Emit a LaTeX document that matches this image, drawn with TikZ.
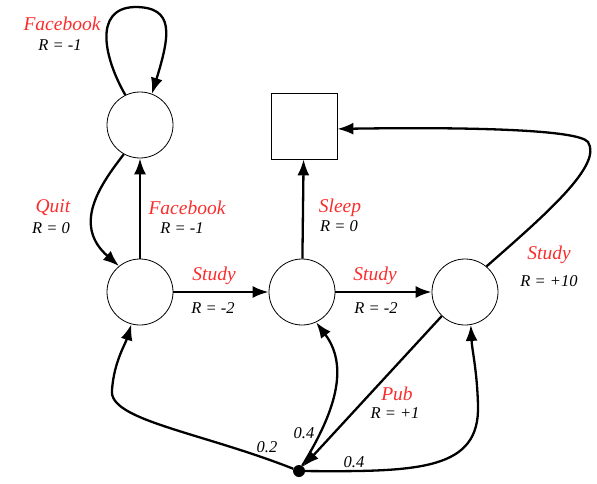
\documentclass[tikz,border=0pt]{standalone}
\usepackage{fontspec}
\setmainfont{Liberation Serif}
\usetikzlibrary{arrows.meta}
\definecolor{actred}{RGB}{250,45,45}
\begin{document}
\begin{tikzpicture}[x=1pt,y=-1pt,
  state/.style={draw,circle,minimum size=66pt,inner sep=0pt,line width=0.8pt},
  term/.style={draw,rectangle,minimum size=66pt,inner sep=0pt,line width=0.8pt},
  chance/.style={circle,fill=black,minimum size=12pt,inner sep=0pt},
  edge/.style={line width=2.3pt,-{Latex[length=16pt,width=12pt]}},
  act/.style={text=actred,font=\fontsize{19.5}{22}\selectfont\itshape,inner sep=0pt},
  rew/.style={font=\fontsize{16.5}{19}\selectfont\itshape,inner sep=0pt},
  prob/.style={font=\fontsize{16.5}{19}\selectfont\itshape,inner sep=0pt}]
\useasboundingbox (0,0) rectangle (597,484);
\node[state] (fb) at (140,125) {};
\node[state] (c1) at (140,292) {};
\node[state] (c2) at (302,292) {};
\node[state] (c3) at (465,292) {};
\node[term] (sq) at (304,126) {};
\node[chance] (dot) at (299,471) {};
% edges
\draw[edge] (fb.116) .. controls (105,60) and (92,8) .. (135,7) .. controls (175,7) and (170,35) .. (fb.69);
\draw[edge] (fb.241) .. controls (100,185) and (72,225) .. (c1.129);
\draw[edge] (c1) -- (fb);
\draw[edge] (c1) -- (c2);
\draw[edge] (c2) -- (c3);
\draw[edge] (c2) -- (sq);
\draw[edge] (c3.50) .. controls (545,215) and (603,165) .. (588,142) .. controls (578,129) and (460,127) .. (sq.-5);
\draw[edge] (c3.226) -- (dot);
\draw[edge] (dot) .. controls (200,432) and (108,420) .. (112,390) .. controls (114,362) and (125,345) .. (c1.255);
\draw[edge] (dot) .. controls (330,420) and (352,370) .. (c2.295);
\draw[edge] (dot) .. controls (420,472) and (480,470) .. (478,405) .. controls (477,370) and (472,350) .. (c3.280);
% labels
\node[act] (l1) at (62,24) {Facebook};
\node[rew] (r1) at (60,45) {R = -1};
\node[act] (l2) at (53,208) {Quit};
\node[rew] (r2) at (51,228) {R = 0};
\node[act] (l3) at (187,208) {Facebook};
\node[rew] (r3) at (182,228) {R = -1};
\node[act] (l4) at (214,276) {Study};
\node[rew] (r4) at (213,308) {R = -2};
\node[act] (l5) at (340,208) {Sleep};
\node[rew] (r5) at (339,226) {R = 0};
\node[act] (l6) at (375,276) {Study};
\node[rew] (r6) at (376,308) {R = -2};
\node[act] (l7) at (549,255) {Study};
\node[rew] (r7) at (549,281) {R = +10};
\node[act] (l8) at (397,394) {Pub};
\node[rew] (r8) at (395,413) {R = +1};
\node[prob] (p1) at (267,447) {0.2};
\node[prob] (p2) at (304,433) {0.4};
\node[prob] (p3) at (354,462) {0.4};
\end{tikzpicture}
\end{document}
